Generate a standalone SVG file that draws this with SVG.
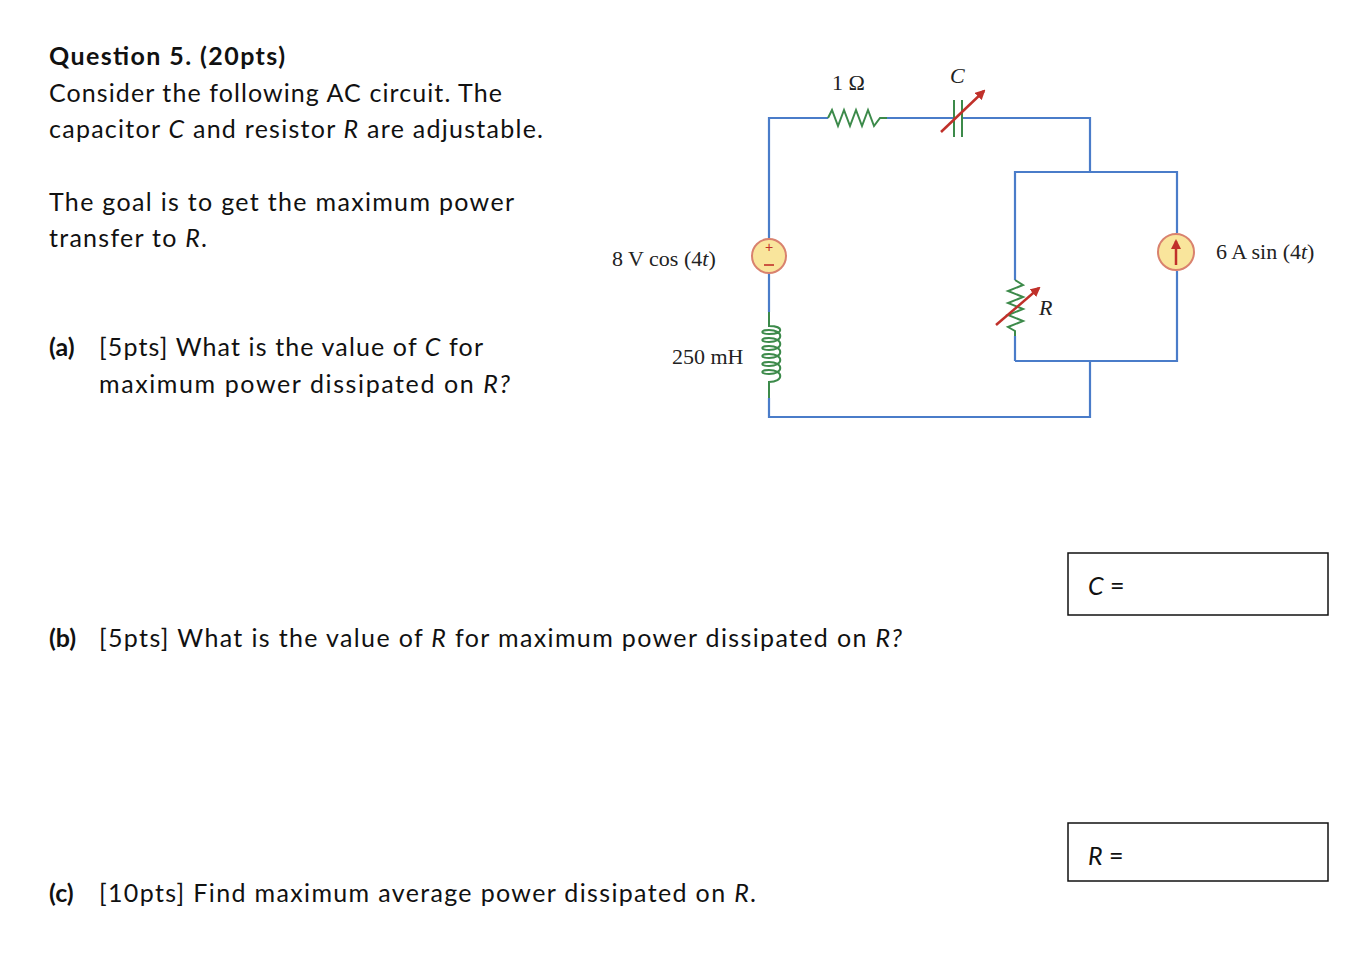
<svg xmlns="http://www.w3.org/2000/svg" width="1350" height="974" viewBox="0 0 1350 974">
<style>
.t{font-family:Lato,"Open Sans",sans-serif;font-size:25px;fill:#111}
.b{font-weight:bold}
.s{font-family:"Liberation Serif",serif;font-size:22px;fill:#222}
.w{stroke:#4a7cc9;stroke-width:2.2;fill:none}
.g{stroke:#3c8a4a;stroke-width:2;fill:none}
.r{stroke:#c0302a;stroke-width:2.5;fill:none}
.box{fill:none;stroke:#111;stroke-width:1.5}
</style>
<defs>
<marker id="ah" viewBox="0 0 10 10" refX="8" refY="5" markerWidth="4" markerHeight="4" orient="auto"><path d="M0,0L10,5L0,10z" fill="#c0302a"/></marker>
</defs>
<rect width="1350" height="974" fill="#fff"/>
<g id="text">
<text class="t b" x="49" y="65" textLength="236">Question 5. (20pts)</text>
<text class="t" x="49" y="102" textLength="453">Consider the following AC circuit. The</text>
<text class="t" x="49" y="138" textLength="494">capacitor <tspan font-style="italic">C</tspan> and resistor <tspan font-style="italic">R</tspan> are adjustable.</text>
<text class="t" x="49" y="211" textLength="465">The goal is to get the maximum power</text>
<text class="t" x="49" y="247" textLength="158">transfer to <tspan font-style="italic">R</tspan>.</text>
<text class="t b" x="49" y="356">(a)</text>
<text class="t" x="99" y="356" textLength="384">[5pts] What is the value of <tspan font-style="italic">C</tspan> for</text>
<text class="t" x="99" y="393" textLength="411">maximum power dissipated on <tspan font-style="italic">R?</tspan></text>
<text class="t b" x="49" y="647">(b)</text>
<text class="t" x="99" y="647" textLength="803">[5pts] What is the value of <tspan font-style="italic">R</tspan> for maximum power dissipated on <tspan font-style="italic">R?</tspan></text>
<text class="t b" x="49" y="902">(c)</text>
<text class="t" x="99" y="902" textLength="657">[10pts] Find maximum average power dissipated on <tspan font-style="italic">R</tspan>.</text>
</g>
<g id="boxC"><rect class="box" x="1068" y="553" width="260" height="62"/><text class="t" x="1088" y="595" font-size="30"><tspan font-style="italic">C</tspan> =</text></g>
<g id="boxR"><rect class="box" x="1068" y="823" width="260" height="58"/><text class="t" x="1088" y="865" font-size="30"><tspan font-style="italic">R</tspan> =</text></g>
<g id="wires">
<path class="w" d="M828,118H769V240M769,272V312M769,398V417H1090V361M1015,361H1177V271M1177,233V172H1015V280M1015,336V361M1090,172V118H962M954,118H887"/>
</g>
<g id="r1">
<path class="g" d="M828,118L832,110L838,126L844,110L850,126L856,110L862,126L868,110L874,126L880,118H887"/>
<text class="s" x="832" y="90">1 Ω</text>
</g>
<g id="cap">
<path class="g" d="M954,100V137M962,100V137"/>
<line class="r" x1="941" y1="132" x2="984" y2="91" marker-end="url(#ah)"/>
<text class="s" x="950" y="83" font-style="italic" font-size="19">C</text>
</g>
<g id="vsrc">
<circle cx="769" cy="256" r="17" fill="#f9e59c" stroke="#d9826e" stroke-width="2"/>
<text x="769" y="252" text-anchor="middle" font-family="Liberation Sans,sans-serif" font-size="14" fill="#c0302a">+</text>
<line x1="764" y1="265" x2="774" y2="265" stroke="#c0302a" stroke-width="1.6"/>
<text class="s" x="612" y="266">8 V cos (4<tspan font-style="italic">t</tspan>)</text>
</g>
<g id="ind">
<path class="g" d="M769,312V326C784,326 784,334 769,334C760,334 760,330 769,330C784,330 784,342 769,342C760,342 760,338 769,338C784,338 784,350 769,350C760,350 760,346 769,346C784,346 784,358 769,358C760,358 760,354 769,354C784,354 784,366 769,366C760,366 760,362 769,362C784,362 784,374 769,374C760,374 760,370 769,370C784,370 784,382 769,382V398"/>
<text class="s" x="672" y="364">250 mH</text>
</g>
<g id="isrc">
<circle cx="1176" cy="252" r="18" fill="#f9e59c" stroke="#d9826e" stroke-width="2"/>
<line class="r" x1="1176" y1="265" x2="1176" y2="241" marker-end="url(#ah)"/>
<text class="s" x="1216" y="259">6 A sin (4<tspan font-style="italic">t</tspan>)</text>
</g>
<g id="rvar">
<path class="g" d="M1015,280L1023,285L1008,291L1023,297L1008,303L1023,309L1008,315L1023,321L1008,327L1015,331V336"/>
<line class="r" x1="996" y1="325" x2="1039" y2="288" marker-end="url(#ah)"/>
<text class="s" x="1039" y="315" font-style="italic">R</text>
</g>
</svg>
